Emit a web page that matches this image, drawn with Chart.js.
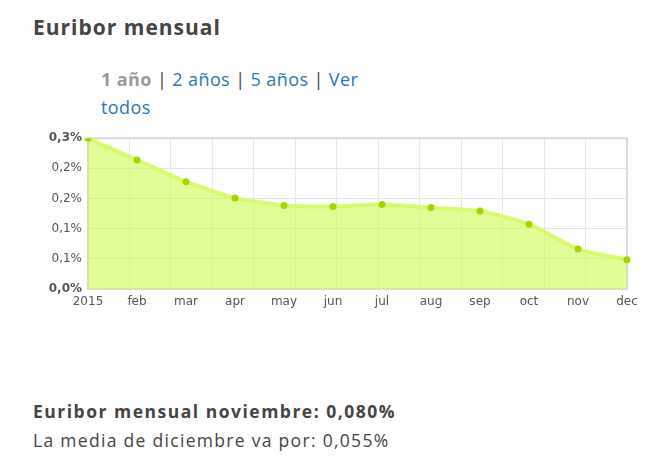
<!DOCTYPE html>
<html>
<head>
<meta charset="utf-8">
<script src="https://cdn.jsdelivr.net/npm/chart.js@4/dist/chart.umd.min.js"></script>
<style>
  body { margin: 0; background: #fff; font-family: "Open Sans", sans-serif; color: #444; }
  #title { position: absolute; left: 33px; top: 13px; font-size: 21px; font-weight: bold; color: #444; margin: 0; letter-spacing: 1px; }
  #links { position: absolute; left: 101px; top: 65px; width: 270px; font-size: 18px; line-height: 28px; color: #444; letter-spacing: 0.4px; }
  #links a { color: #2a78b6; text-decoration: none; }
  #links .cur { color: #999; font-weight: bold; }
  #chartBox { position: absolute; left: 0; top: 125px; width: 665px; height: 195px; }
  #summary { position: absolute; left: 33px; top: 397px; font-size: 17.5px; line-height: 29px; color: #444; letter-spacing: 1.3px; }
  #summary b { color: #444; letter-spacing: 1.5px; }
</style>
</head>
<body>
<h1 id="title">Euribor mensual</h1>
<div id="links"><span class="cur">1 año</span> | <a href="#">2 años</a> | <a href="#">5 años</a> | <a href="#">Ver todos</a></div>
<div id="chartBox"><canvas id="chart" width="665" height="195"></canvas></div>
<div id="summary"><b>Euribor mensual noviembre: 0,080%</b><br>La media de diciembre va por: 0,055%</div>
<script>
// Euribor 2015, monthly average (%)
const months = ['2015', 'feb', 'mar', 'apr', 'may', 'jun', 'jul', 'aug', 'sep', 'oct', 'nov', 'dec'];
const euribor = [0.298, 0.255, 0.212, 0.180, 0.165, 0.163, 0.167, 0.161, 0.154, 0.128, 0.079, 0.058];

const yMax = Math.max(...euribor);
const ySteps = 5;
const gridCols = 13;

// frame around the plot area
const framePlugin = {
    id: 'frame',
    beforeDatasetsDraw(chart) {
        const a = chart.chartArea;
        const ctx = chart.ctx;
        ctx.save();
        ctx.strokeStyle = '#d9d9d9';
        ctx.lineWidth = 2;
        ctx.strokeRect(a.left, a.top, a.right - a.left, a.bottom - a.top);
        ctx.restore();
    }
};

function fmt(v) {
    return v.toFixed(1).replace('.', ',') + '%';
}

let ctx = document.getElementById('chart').getContext('2d');
let chart = new Chart(ctx, {
    type: 'line',
    data: {
        labels: months,
        datasets: [{
            data: euribor,
            borderColor: 'rgba(214, 250, 100, 0.9)',
            borderWidth: 4,
            backgroundColor: 'rgba(205, 251, 80, 0.6)',
            fill: 'origin',
            tension: 0.2,
            pointRadius: 3.5,
            pointHoverRadius: 3.5,
            pointBorderWidth: 0,
            pointBackgroundColor: '#a3d500'
        }]
    },
    options: {
        responsive: false,
        animation: false,
        layout: { padding: { top: 12, right: 38, left: 0, bottom: 0 } },
        plugins: {
            legend: { display: false },
            tooltip: { enabled: false }
        },
        scales: {
            x: {
                offset: false,
                grid: { display: false },
                border: { display: false },
                ticks: {
                    color: '#555',
                    padding: -2,
                    maxRotation: 0,
                    autoSkip: false,
                    font: { family: 'DejaVu Sans', size: 12 }
                },
                afterFit(scale) { scale.height = 31; }
            },
            x2: {
                type: 'linear',
                position: 'bottom',
                min: 0,
                max: gridCols,
                ticks: { display: false, stepSize: 1 },
                grid: { color: '#e8e8e8', drawTicks: false },
                border: { display: false },
                afterFit(scale) { scale.height = 0; }
            },
            y: {
                min: 0,
                max: yMax,
                border: { display: false },
                grid: { color: '#e3e3e3', drawTicks: false },
                afterBuildTicks(scale) {
                    let t = [];
                    for (let i = 0; i <= ySteps; i++) t.push({ value: yMax * i / ySteps });
                    scale.ticks = t;
                },
                ticks: {
                    color: '#555',
                    padding: 6,
                    callback: (v) => fmt(v),
                    font: (c) => ({
                        family: 'DejaVu Sans',
                        size: 12,
                        weight: (c.index === 0 || c.index === ySteps) ? 'bold' : 'normal'
                    })
                },
                afterFit(scale) { scale.width = 88; }
            }
        }
    },
    plugins: [framePlugin]
});
</script>
</body>
</html>
